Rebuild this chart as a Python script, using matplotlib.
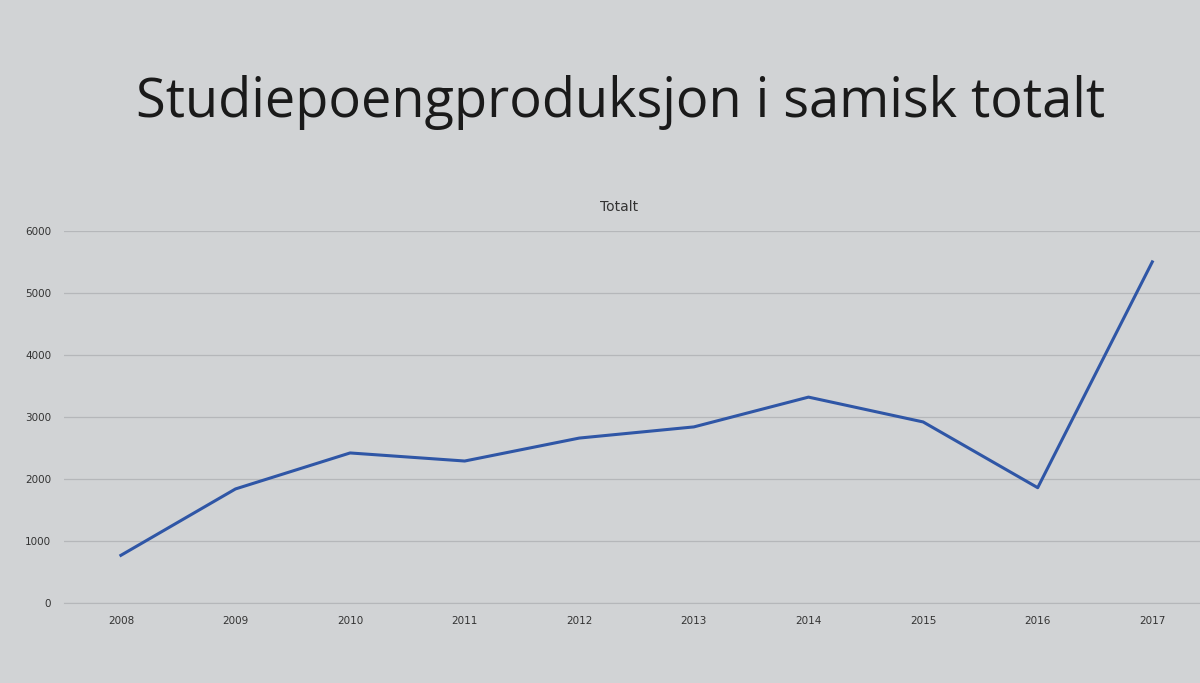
#!/usr/bin/env python3
import matplotlib
matplotlib.use("Agg")
import matplotlib.pyplot as plt

years = ["2008", "2009", "2010", "2011", "2012", "2013", "2014", "2015", "2016", "2017"]
totalt = [770, 1840, 2420, 2290, 2660, 2840, 3320, 2920, 1860, 5500]

bg = "#d1d3d5"
line_blue = "#2f56a6"

fig = plt.figure(figsize=(12, 6.83), dpi=100, facecolor=bg)
fig.text(0.517, 0.85, "Studiepoengproduksjon i samisk totalt", ha="center", va="center",
         fontsize=39, color="#1a1a1a", family="Open Sans")

ax = fig.add_axes([0.053, 0.117, 0.955, 0.545], facecolor=bg)
x = list(range(len(years)))
ax.plot(x, totalt, color=line_blue, linewidth=2.2)
ax.set_xlim(-0.5, 9.5)
ax.set_ylim(0, 6000)
ax.set_yticks(range(0, 6001, 1000))
ax.set_xticks(x)
ax.set_xticklabels(years)
ax.tick_params(length=0, labelsize=7.5, colors="#333333", pad=9)
ax.grid(axis="y", color="#b5b7ba", linewidth=0.9)
ax.set_axisbelow(True)
for s in ["top", "right", "left"]:
    ax.spines[s].set_visible(False)
ax.spines["bottom"].set_color("#b5b7ba")
ax.set_title("Totalt", fontsize=10, color="#333333", pad=14, x=0.485)

fig.savefig("out.png", facecolor=bg)
